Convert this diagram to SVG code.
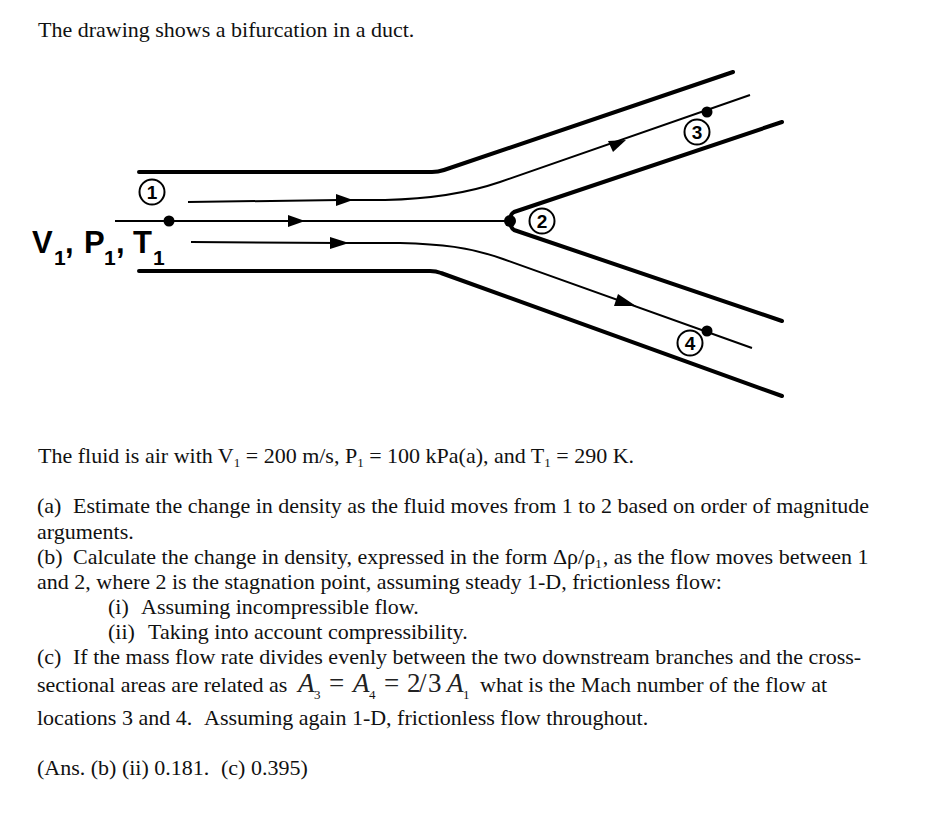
<svg xmlns="http://www.w3.org/2000/svg" width="941" height="817" viewBox="0 0 941 817">
<style>
.t{font-family:"Liberation Serif","Times New Roman",serif;font-size:22px;fill:#111}
.s{font-size:13px}
.m{font-family:"Liberation Serif","Times New Roman",serif;font-size:27px;fill:#222}
.i{font-style:italic}
.w{fill:none;stroke:#000;stroke-width:4;stroke-linecap:round;stroke-linejoin:round}
.f{fill:none;stroke:#000;stroke-width:2}
.c{fill:#fff;stroke:#000;stroke-width:2}
.n{font-family:"Liberation Sans",Arial,sans-serif;font-weight:bold;font-size:19px;text-anchor:middle;fill:#000}
.l{font-family:"Liberation Sans",Arial,sans-serif;font-weight:bold;font-size:31px;fill:#000}
.ls{font-family:"Liberation Sans",Arial,sans-serif;font-weight:bold;font-size:21px;fill:#000}
</style>
<rect width="941" height="817" fill="#fff"/>
<g id="connectors">
<path class="w" d="M139 172H432Q438 172 444 170L733 72"/>
<path class="w" d="M139 271H430Q436 271 441 273L782 396"/>
<path class="w" d="M782 122L514 212Q510 214 510 221Q510 227 514 230L782 321"/>
<path class="f" d="M115 221H510"/>
<path class="f" d="M188 202L340 200H385C430 199 465 194 500 182L750 95"/>
<path class="f" d="M191 242L340 243H400C440 244 470 247 503 259L752 348"/>
<path d="M336 194L353 200L336 206Z"/>
<path d="M288 215L305 221L288 227Z"/>
<path d="M330 237L349 243L330 249Z"/>
<path d="M608 141L626 140L613 152Z"/>
<path d="M618 294L636 306L614 306Z"/>
</g>
<g id="node-1"><circle cx="169" cy="221" r="5.5"/><circle class="c" cx="152" cy="192" r="12.5"/><text class="n" x="152" y="199">1</text></g>
<g id="node-2"><circle cx="510" cy="221" r="6"/><circle class="c" cx="542" cy="221" r="12.5"/><text class="n" x="542" y="228">2</text></g>
<g id="node-3"><circle cx="707" cy="112" r="5.5"/><circle class="c" cx="697" cy="132" r="12.5"/><text class="n" x="697" y="139">3</text></g>
<g id="node-4"><circle cx="707" cy="331" r="5.5"/><circle class="c" cx="690" cy="343" r="12.5"/><text class="n" x="690" y="350">4</text></g>
<g id="inlet-label">
<text class="l" x="32" y="253">V</text><text class="ls" x="54" y="265">1</text><text class="l" x="65" y="253">,</text>
<text class="l" x="84" y="253">P</text><text class="ls" x="104" y="265">1</text><text class="l" x="116" y="253">,</text>
<text class="l" x="133" y="253">T</text><text class="ls" x="153" y="265">1</text>
</g>
<g id="text">
<text class="t" x="38" y="37">The drawing shows a bifurcation in a duct.</text>
<text class="t" x="38" y="463">The fluid is air with V<tspan class="s" dy="4">1</tspan><tspan dy="-4"> = 200 m/s, P</tspan><tspan class="s" dy="4">1</tspan><tspan dy="-4"> = 100 kPa(a), and T</tspan><tspan class="s" dy="4">1</tspan><tspan dy="-4"> = 290 K.</tspan></text>
<text class="t" x="37" y="513">(a)<tspan x="73">Estimate the change in density as the fluid moves from 1 to 2 based on order of magnitude</tspan></text>
<text class="t" x="37" y="539">arguments.</text>
<text class="t" x="37" y="564">(b)<tspan x="73">Calculate the change in density, expressed in the form Δρ/ρ</tspan><tspan class="s" dy="4">1</tspan><tspan dx="1" dy="-4">, as the flow moves between 1</tspan></text>
<text class="t" x="37" y="589">and 2, where 2 is the stagnation point, assuming steady 1-D, frictionless flow:</text>
<text class="t" x="108" y="614">(i)<tspan x="141">Assuming incompressible flow.</tspan></text>
<text class="t" x="108" y="639">(ii)<tspan x="148">Taking into account compressibility.</tspan></text>
<text class="t" x="37" y="664">(c)<tspan x="73">If the mass flow rate divides evenly between the two downstream branches and the cross-</tspan></text>
<text class="t" x="37" y="692">sectional areas are related as</text>
<text class="m i" x="298" y="692">A</text><text class="t s" x="314" y="699">3</text><text class="m" x="329" y="692">=</text>
<text class="m i" x="353" y="692">A</text><text class="t s" x="369" y="699">4</text><text class="m" x="384" y="692">=</text>
<text class="m" x="407" y="692">2</text><text class="m" x="419" y="692" font-size="33">/</text><text class="m" x="428" y="692">3</text>
<text class="m i" x="447" y="692">A</text><text class="t s" x="463" y="699">1</text>
<text class="t" x="480" y="692">what is the Mach number of the flow at</text>
<text class="t" x="37" y="725">locations 3 and 4.<tspan x="204">Assuming again 1-D, frictionless flow throughout.</tspan></text>
<text class="t" x="37" y="775">(Ans. (b) (ii) 0.181.<tspan x="221">(c) 0.395)</tspan></text>
</g>
</svg>
